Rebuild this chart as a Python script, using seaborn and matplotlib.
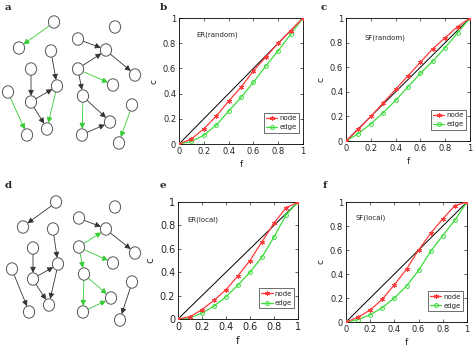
import numpy as np
import pandas as pd
import matplotlib
matplotlib.use("Agg")
import matplotlib.pyplot as plt
import seaborn as sns

# ---------------- data ----------------
f_vals = [0, 0.1, 0.2, 0.3, 0.4, 0.5, 0.6, 0.7, 0.8, 0.9, 1.0]

er_random_node = [0, 0.04, 0.12, 0.22, 0.34, 0.45, 0.58, 0.69, 0.80, 0.90, 1.0]
er_random_edge = [0, 0.02, 0.07, 0.15, 0.26, 0.37, 0.49, 0.62, 0.74, 0.87, 1.0]
sf_random_node = [0, 0.095, 0.20, 0.31, 0.42, 0.53, 0.64, 0.75, 0.84, 0.93, 1.0]
sf_random_edge = [0, 0.06, 0.14, 0.23, 0.33, 0.44, 0.55, 0.65, 0.76, 0.88, 1.0]
er_local_node = [0, 0.02, 0.08, 0.16, 0.25, 0.37, 0.50, 0.66, 0.82, 0.95, 1.0]
er_local_edge = [0, 0.01, 0.05, 0.11, 0.19, 0.29, 0.40, 0.53, 0.70, 0.89, 1.0]
sf_local_node = [0, 0.04, 0.10, 0.19, 0.31, 0.44, 0.60, 0.74, 0.86, 0.97, 1.0]
sf_local_edge = [0, 0.02, 0.06, 0.12, 0.20, 0.30, 0.43, 0.59, 0.72, 0.85, 1.0]

diag = [0, 1]
tick_vals = [0, 0.2, 0.4, 0.6, 0.8, 1]
tick_labels = ["0", "0.2", "0.4", "0.6", "0.8", "1"]

panel_titles = ["ER(random)", "SF(random)", "ER(local)", "SF(local)"]
panel_letters = ["b", "c", "e", "f"]
series_names = ["node", "edge"]

# network node positions (pixels), panel a
net_a_x = [54, 19, 51, 31, 57, 8, 31, 47, 27, 78, 115, 106, 78, 135, 113, 83, 132, 110, 82, 119]
net_a_y = [22, 48, 51, 69, 86, 92, 102, 129, 135, 39, 27, 50, 69, 75, 85, 96, 105, 122, 135, 143]
# panel d
net_d_x = [56, 23, 53, 33, 58, 12, 33, 49, 29, 79, 115, 106, 79, 135, 113, 84, 132, 111, 83, 120]
net_d_y = [202, 227, 229, 248, 264, 269, 279, 305, 312, 218, 207, 229, 247, 253, 263, 274, 282, 298, 312, 320]
# edges (from, to), 1-based
edges_src = [1, 3, 4, 7, 5, 7, 6, 10, 13, 12, 13, 13, 16, 16, 19, 17]
edges_dst = [2, 5, 7, 5, 8, 8, 9, 12, 12, 14, 15, 16, 18, 19, 18, 20]
edges_green_a = [1, 0, 0, 0, 1, 0, 1, 0, 0, 0, 1, 0, 0, 1, 0, 1]
edges_green_d = [0, 0, 0, 0, 0, 0, 0, 0, 1, 0, 1, 1, 1, 1, 1, 0]

# ---------------- figure ----------------
sns.set_style("white")
plt.rcParams['font.family'] = ['DejaVu Sans']
W, H = 474, 346
fig = plt.figure(figsize=(W / 100, H / 100), dpi=100)

RED = "#ff3b3b"
GREEN = "#3ddc3d"

boxes = [(179, 18, 303, 144), (346, 18, 470, 141), (178, 202, 298, 319), (346, 202, 467, 322)]
data = [(er_random_node, er_random_edge), (sf_random_node, sf_random_edge),
        (er_local_node, er_local_edge), (sf_local_node, sf_local_edge)]
text_pos = [(0.14, 0.87), (0.15, 0.84), (0.075, 0.85), (0.08, 0.87)]
tick_fs = [6, 6, 7, 6]

for i, (l, t, r, b) in enumerate(boxes):
    ax = fig.add_axes([l / W, 1 - b / H, (r - l) / W, (b - t) / H])
    node, edge = data[i]
    df = pd.DataFrame({"f": f_vals * 2, "c": node + edge,
                       "kind": [series_names[0]] * len(f_vals) + [series_names[1]] * len(f_vals)})
    ax.plot(diag, diag, color="black", lw=0.7, zorder=1)
    sns.lineplot(data=df[df.kind == "node"], x="f", y="c", ax=ax, color=RED, lw=0.9,
                 marker=(6, 2, 0), markersize=3.5, markeredgecolor=RED, markeredgewidth=0.7,
                 label="node", zorder=3)
    sns.lineplot(data=df[df.kind == "edge"], x="f", y="c", ax=ax, color=GREEN, lw=0.9,
                 marker="o", markersize=2.8, markerfacecolor="none", markeredgecolor=GREEN,
                 markeredgewidth=0.7, label="edge", zorder=2)
    ax.set_xlim(0, 1)
    ax.set_ylim(0, 1)
    ax.set_xticks(tick_vals)
    ax.set_xticklabels(tick_labels)
    ax.set_yticks(tick_vals)
    ax.set_yticklabels(tick_labels)
    ax.tick_params(direction="in", length=2, width=0.5, labelsize=tick_fs[i], pad=2,
                   top=True, right=True, bottom=True, left=True)
    for s in ax.spines.values():
        s.set_linewidth(0.6)
        s.set_color("black")
    ax.set_xlabel("f", fontsize=tick_fs[i] + 0.5, labelpad=3)
    ax.set_ylabel("c", fontsize=tick_fs[i] + 0.5, labelpad=3)
    ax.text(text_pos[i][0], text_pos[i][1], panel_titles[i], fontsize=5, ha="left", va="center",
            transform=ax.transData)
    leg = ax.legend(loc="lower right", bbox_to_anchor=(0.97, 0.09), fontsize=5, frameon=True,
                    fancybox=False, handlelength=1.6, borderpad=0.35, labelspacing=0.45,
                    handletextpad=0.3, borderaxespad=0.0)
    leg.get_frame().set_edgecolor("black")
    leg.get_frame().set_linewidth(0.5)

# overlay for networks and panel letters
ov = fig.add_axes([0, 0, 1, 1])
ov.set_xlim(0, W)
ov.set_ylim(H, 0)
ov.axis("off")
ov.patch.set_alpha(0)

from matplotlib.patches import Ellipse, FancyArrowPatch
rx, ry = 5.6, 6.2


def draw_net(xs, ys, greens):
    for (x, y) in zip(xs, ys):
        ov.add_patch(Ellipse((x, y), 2 * rx, 2 * ry, facecolor="white",
                             edgecolor="#555555", lw=0.7, zorder=3))
    for s, d, g in zip(edges_src, edges_dst, greens):
        x0, y0 = xs[s - 1], ys[s - 1]
        x1, y1 = xs[d - 1], ys[d - 1]
        dx, dy = x1 - x0, y1 - y0
        n = np.hypot(dx, dy)
        ux, uy = dx / n, dy / n
        col = "#33cc33" if g else "#333333"
        ar = FancyArrowPatch((x0 + ux * rx, y0 + uy * ry), (x1 - ux * rx, y1 - uy * ry),
                             arrowstyle="-|>,head_length=2.2,head_width=1.1",
                             color=col, lw=0.6, mutation_scale=1.5, zorder=2,
                             shrinkA=0, shrinkB=0)
        ov.add_patch(ar)


draw_net(net_a_x, net_a_y, edges_green_a)
draw_net(net_d_x, net_d_y, edges_green_d)

letter_pos = [("a", 8, 7), ("b", 163, 7), ("c", 324, 7),
              ("d", 8, 186), ("e", 163, 186), ("f", 325, 186)]
for s, x, y in letter_pos:
    ov.text(x, y, s, fontsize=7.5, fontweight="bold", family="DejaVu Serif",
            ha="center", va="center")

fig.savefig("out.png", dpi=100, facecolor="white")
